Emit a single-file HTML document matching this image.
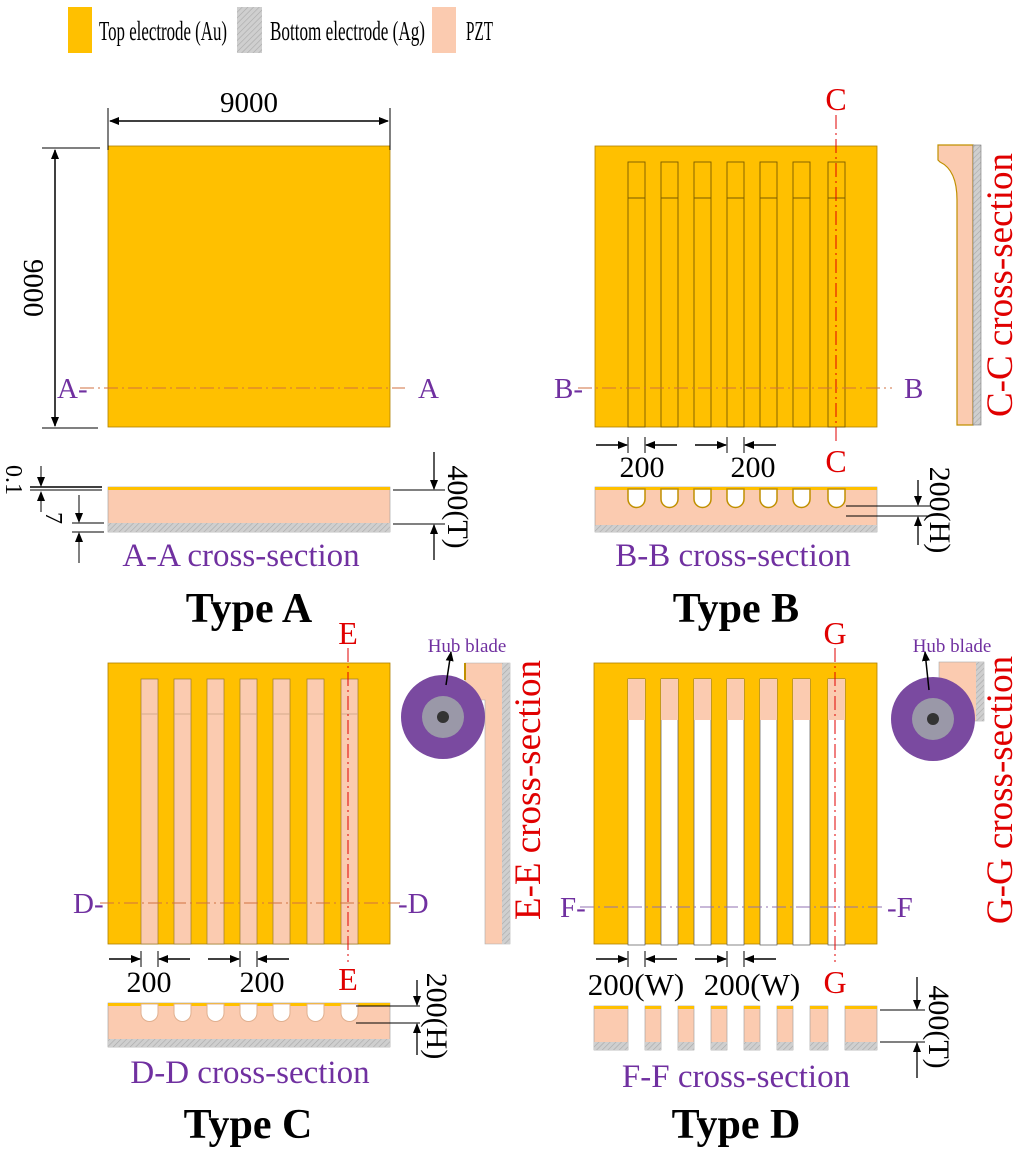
<!DOCTYPE html>
<html><head><meta charset="utf-8"><style>
body{margin:0;background:#fff}
svg{display:block}
text{font-family:"Liberation Serif",serif}
</style></head><body>
<svg id="fig" width="1024" height="1153" viewBox="0 0 1024 1153">
<defs>
<pattern id="hatch" width="4" height="4" patternUnits="userSpaceOnUse" patternTransform="rotate(45)">
<rect width="4" height="4" fill="#cfcfcf"/><line x1="0" y1="0" x2="0" y2="4" stroke="#a9a9a9" stroke-width="1.2"/>
</pattern>
<marker id="ah" markerWidth="10" markerHeight="8" refX="9" refY="4" orient="auto" markerUnits="userSpaceOnUse"><path d="M0,0 L10,4 L0,8z" fill="#000"/></marker>
<marker id="ahs" markerWidth="10" markerHeight="8" refX="1" refY="4" orient="auto" markerUnits="userSpaceOnUse"><path d="M10,0 L0,4 L10,8z" fill="#000"/></marker>
</defs>

<g>
<rect x="68" y="7" width="24" height="46" fill="#FFC000"/>
<text x="99" y="40" font-size="27" textLength="128" lengthAdjust="spacingAndGlyphs">Top electrode (Au)</text>
<rect x="237" y="7" width="25" height="46" fill="url(#hatch)"/>
<text x="270" y="40" font-size="27" textLength="155" lengthAdjust="spacingAndGlyphs">Bottom electrode (Ag)</text>
<rect x="432" y="7" width="24" height="46" fill="#FBCBB0"/>
<text x="466" y="40" font-size="27" textLength="27" lengthAdjust="spacingAndGlyphs">PZT</text>
</g>

<!-- Type A -->
<g>
<rect x="108" y="146" width="282" height="281" fill="#FFC000" stroke="#b08000" stroke-width="0.8"/>
<line x1="108" y1="108" x2="108" y2="150" stroke="#000"/><line x1="390" y1="108" x2="390" y2="150" stroke="#000"/>
<line x1="110" y1="121" x2="388" y2="121" stroke="#000" stroke-width="1.5" marker-end="url(#ah)" marker-start="url(#ahs)"/>
<text x="249" y="112" font-size="29" text-anchor="middle">9000</text>
<line x1="42" y1="148" x2="100" y2="148" stroke="#000"/><line x1="42" y1="428" x2="98" y2="428" stroke="#000"/>
<line x1="55" y1="150" x2="55" y2="426" stroke="#000" stroke-width="1.5" marker-end="url(#ah)" marker-start="url(#ahs)"/>
<text transform="translate(24,288) rotate(90)" font-size="29" text-anchor="middle">9000</text>
<line x1="80" y1="388" x2="405" y2="388" stroke="#d07040" stroke-dasharray="14,4,2,4"/>
<text x="57" y="398" font-size="29" fill="#7030A0">A-</text><text x="418" y="398" font-size="29" fill="#7030A0">A</text>
<rect x="108" y="487" width="282" height="45" fill="#FBCBB0" stroke="#999" stroke-width="0.6"/>
<rect x="108" y="487" width="282" height="3" fill="#FFC000"/>
<rect x="108" y="523" width="282" height="9" fill="url(#hatch)"/>
<line x1="30" y1="487" x2="102" y2="487" stroke="#000" stroke-width="1.5"/><line x1="30" y1="490" x2="102" y2="490" stroke="#000" stroke-width="1"/>
<line x1="72" y1="523" x2="104" y2="523" stroke="#000"/><line x1="72" y1="532" x2="104" y2="532" stroke="#000"/>
<line x1="41" y1="466" x2="41" y2="486" stroke="#000" marker-end="url(#ah)"/><line x1="41" y1="512" x2="41" y2="492" stroke="#000" marker-end="url(#ah)"/>
<line x1="79" y1="495" x2="79" y2="522" stroke="#000" marker-end="url(#ah)"/><line x1="79" y1="563" x2="79" y2="533" stroke="#000" marker-end="url(#ah)"/>
<text transform="translate(6,465) rotate(90)" font-size="24">0.1</text>
<text transform="translate(46,512) rotate(90)" font-size="24">7</text>
<line x1="393" y1="490" x2="445" y2="490" stroke="#000"/><line x1="393" y1="524" x2="445" y2="524" stroke="#000"/>
<line x1="434" y1="452" x2="434" y2="489" stroke="#000" stroke-width="1.3" marker-end="url(#ah)"/><line x1="434" y1="560" x2="434" y2="525" stroke="#000" stroke-width="1.3" marker-end="url(#ah)"/>
<text transform="translate(448,507) rotate(90)" font-size="30" text-anchor="middle">400(T)</text>
<text x="241" y="566" font-size="33" fill="#7030A0" text-anchor="middle">A-A cross-section</text>
<text x="249" y="622" font-size="42" font-weight="bold" text-anchor="middle">Type A</text>
</g>

<!-- Type B -->
<g>
<rect x="595" y="146" width="282" height="281" fill="#FFC000" stroke="#b08000" stroke-width="0.8"/>
<g id="bSlots"></g>
<line x1="836" y1="115" x2="836" y2="445" stroke="#e00000" stroke-dasharray="14,4,2,4"/>
<text x="836" y="110" font-size="32" fill="#e00000" text-anchor="middle">C</text>
<text x="836" y="472" font-size="32" fill="#e00000" text-anchor="middle">C</text>
<line x1="578" y1="388" x2="892" y2="388" stroke="#d07040" stroke-dasharray="14,4,2,4"/>
<text x="554" y="398" font-size="29" fill="#7030A0">B-</text><text x="904" y="398" font-size="29" fill="#7030A0">B</text>
<path d="M938,145 L973,145 L973,425 L957,425 L957,200 Q957,170 940,162 L938,160 Z" fill="#FBCBB0" stroke="#c09000" stroke-width="1.2"/>
<rect x="973" y="145" width="8" height="280" fill="url(#hatch)" stroke="#777" stroke-width="0.6"/>
<text transform="translate(1012,285) rotate(-90)" font-size="37" fill="#e00000" text-anchor="middle">C-C cross-section</text>
<rect x="595" y="487" width="282" height="45" fill="#FBCBB0" stroke="#999" stroke-width="0.6"/>
<rect x="595" y="487" width="282" height="3" fill="#FFC000"/>
<rect x="595" y="525" width="282" height="7" fill="url(#hatch)"/>
<g id="bNotch"></g>
<text x="642" y="477" font-size="30" text-anchor="middle">200</text><text x="753" y="477" font-size="30" text-anchor="middle">200</text>
<text x="733" y="566" font-size="33" fill="#7030A0" text-anchor="middle">B-B cross-section</text>
<text x="736" y="622" font-size="42" font-weight="bold" text-anchor="middle">Type B</text>
</g>

<!-- Type C -->
<g>
<rect x="108" y="663" width="282" height="281" fill="#FFC000" stroke="#b08000" stroke-width="0.8"/>
<g id="cSlots"></g>
<line x1="348" y1="648" x2="348" y2="962" stroke="#e00000" stroke-dasharray="14,4,2,4"/>
<text x="348" y="644" font-size="32" fill="#e00000" text-anchor="middle">E</text>
<text x="348" y="990" font-size="32" fill="#e00000" text-anchor="middle">E</text>
<line x1="100" y1="903" x2="400" y2="903" stroke="#d07040" stroke-dasharray="14,4,2,4"/>
<text x="73" y="913" font-size="29" fill="#7030A0">D-</text><text x="398" y="913" font-size="29" fill="#7030A0">-D</text>
<path d="M465,663 L510,663 L510,944 L485,944 L485,700 L465,700 Z" fill="#FBCBB0" stroke="#aaa" stroke-width="0.6"/>
<rect x="502" y="663" width="8" height="281" fill="url(#hatch)"/>
<line x1="465" y1="663" x2="465" y2="680" stroke="#c09000" stroke-width="2"/>
<text transform="translate(540,790) rotate(-90)" font-size="37" fill="#e00000" text-anchor="middle">E-E cross-section</text>
<g>
<circle cx="443" cy="717" r="42" fill="#7a4aa0"/><circle cx="443" cy="717" r="21" fill="#9a98a8"/><circle cx="443" cy="717" r="6" fill="#333"/>
<line x1="446" y1="685" x2="451" y2="652" stroke="#000" stroke-width="1.5" marker-end="url(#ah)"/>
<text x="467" y="652" font-size="19" fill="#7030A0" text-anchor="middle">Hub blade</text>
</g>
<rect x="108" y="1003" width="282" height="44" fill="#FBCBB0" stroke="#999" stroke-width="0.6"/>
<rect x="108" y="1003" width="282" height="3" fill="#FFC000"/>
<rect x="108" y="1039" width="282" height="8" fill="url(#hatch)"/>
<g id="cNotch"></g>
<text x="149" y="992" font-size="30" text-anchor="middle">200</text><text x="262" y="992" font-size="30" text-anchor="middle">200</text>
<text x="250" y="1083" font-size="33" fill="#7030A0" text-anchor="middle">D-D cross-section</text>
<text x="248" y="1138" font-size="42" font-weight="bold" text-anchor="middle">Type C</text>
</g>

<!-- Type D -->
<g>
<rect x="594" y="663" width="283" height="281" fill="#FFC000" stroke="#b08000" stroke-width="0.8"/>
<g id="dSlots"></g>
<line x1="835" y1="648" x2="835" y2="962" stroke="#e00000" stroke-dasharray="14,4,2,4"/>
<text x="835" y="644" font-size="32" fill="#e00000" text-anchor="middle">G</text>
<text x="835" y="993" font-size="32" fill="#e00000" text-anchor="middle">G</text>
<line x1="580" y1="907" x2="885" y2="907" stroke="#9070b0" stroke-dasharray="14,4,2,4"/>
<text x="560" y="917" font-size="29" fill="#7030A0">F-</text><text x="887" y="917" font-size="29" fill="#7030A0">-F</text>
<rect x="939" y="662" width="45" height="59" fill="#FBCBB0" stroke="#aaa" stroke-width="0.6"/>
<rect x="976" y="662" width="8" height="59" fill="url(#hatch)"/>
<g>
<circle cx="933" cy="719" r="42" fill="#7a4aa0"/><circle cx="933" cy="719" r="21" fill="#9a98a8"/><circle cx="933" cy="719" r="6" fill="#333"/>
<line x1="929" y1="690" x2="925" y2="652" stroke="#000" stroke-width="1.5" marker-end="url(#ah)"/>
<text x="952" y="652" font-size="19" fill="#7030A0" text-anchor="middle">Hub blade</text>
</g>
<text transform="translate(1012,790) rotate(-90)" font-size="37" fill="#e00000" text-anchor="middle">G-G cross-section</text>
<g id="dBlocks"></g>
<text x="636" y="995" font-size="31" text-anchor="middle">200(W)</text><text x="752" y="995" font-size="31" text-anchor="middle">200(W)</text>
<text x="736" y="1087" font-size="33" fill="#7030A0" text-anchor="middle">F-F cross-section</text>
<text x="736" y="1138" font-size="42" font-weight="bold" text-anchor="middle">Type D</text>
</g>

<g>
<line x1="846" y1="506" x2="930" y2="506" stroke="#000"/><line x1="846" y1="516" x2="930" y2="516" stroke="#000"/>
<line x1="918" y1="480" x2="918" y2="505" stroke="#000" stroke-width="1.3" marker-end="url(#ah)"/><line x1="918" y1="545" x2="918" y2="517" stroke="#000" stroke-width="1.3" marker-end="url(#ah)"/>
<text transform="translate(930,510) rotate(90)" font-size="30" text-anchor="middle">200(H)</text>
<line x1="356" y1="1006" x2="420" y2="1006" stroke="#000"/><line x1="356" y1="1023" x2="420" y2="1023" stroke="#000"/>
<line x1="417" y1="980" x2="417" y2="1005" stroke="#000" stroke-width="1.3" marker-end="url(#ah)"/><line x1="417" y1="1055" x2="417" y2="1024" stroke="#000" stroke-width="1.3" marker-end="url(#ah)"/>
<text transform="translate(427,1016) rotate(90)" font-size="30" text-anchor="middle">200(H)</text>
<line x1="880" y1="1010" x2="925" y2="1010" stroke="#000"/><line x1="880" y1="1042" x2="925" y2="1042" stroke="#000"/>
<line x1="917" y1="977" x2="917" y2="1009" stroke="#000" stroke-width="1.3" marker-end="url(#ah)"/><line x1="917" y1="1078" x2="917" y2="1043" stroke="#000" stroke-width="1.3" marker-end="url(#ah)"/>
<text transform="translate(929,1027) rotate(90)" font-size="30" text-anchor="middle">400(T)</text>
</g>
</svg>
<script>
const slotsBD = [628,661,694,727,760,793,828];
const slotsC = [141,174,207,240,273,307,341];
const slotW = 17;
const NS = "http://www.w3.org/2000/svg";
function mk(parent, tag, attrs){const e=document.createElementNS(NS,tag);for(const k in attrs)e.setAttribute(k,attrs[k]);document.getElementById(parent).appendChild(e);return e;}
slotsBD.forEach(x=>{
  const r=mk('bSlots','rect',{x:x,y:162,width:slotW,height:265,fill:'#FFC000',stroke:'#7a5a00','stroke-width':0.9});
  
  
  mk('bSlots','line',{x1:x,y1:198,x2:x+slotW,y2:198,stroke:'#7a5a00','stroke-width':0.9});
  const n=mk('bNotch','path',{d:`M${x},489 L${x},499 A8.5,8.5 0 0 0 ${x+slotW},499 L${x+slotW},489 Z`,fill:'#fff',stroke:'#c09000','stroke-width':1.5});
  
  
});
slotsC.forEach(x=>{
  const r=mk('cSlots','rect',{x:x,y:679,width:slotW,height:265,fill:'#FBCBB0',stroke:'#9a7a30','stroke-width':0.7});
  
  
  mk('cSlots','line',{x1:x,y1:714,x2:x+slotW,y2:714,stroke:'#c8a080','stroke-width':0.8});
  const n=mk('cNotch','path',{d:`M${x},1004 L${x},1013 A8.5,8.5 0 0 0 ${x+slotW},1013 L${x+slotW},1004 Z`,fill:'#fff',stroke:'#e0b090','stroke-width':1});
  
  
});
slotsBD.forEach(x=>{
  const r=mk('dSlots','rect',{x:x,y:679,width:slotW,height:266,fill:'#fff',stroke:'#555','stroke-width':0.7});
  
  
  mk('dSlots','rect',{x:x,y:679,width:slotW,height:41,fill:'#FBCBB0'});
});
const edges=[594].concat(slotsBD.flatMap(x=>[x,x+slotW])).concat([877]);
for(let i=0;i<edges.length;i+=2){
  const a=edges[i],b=edges[i+1];
  const g=mk('dBlocks','rect',{x:a,y:1006,width:b-a,height:44,fill:'#FBCBB0',stroke:'#999','stroke-width':0.6});
  
  
  mk('dBlocks','rect',{x:a,y:1006,width:b-a,height:3,fill:'#FFC000'});
  mk('dBlocks','rect',{x:a,y:1042,width:b-a,height:8,fill:'url(#hatch)'});
}
function dimArrows(grp,x1,x2,y){
  mk(grp,'line',{x1:x1,y1:y-8,x2:x1,y2:y+8,stroke:'#000'});
  mk(grp,'line',{x1:x2,y1:y-8,x2:x2,y2:y+8,stroke:'#000'});
  mk(grp,'line',{x1:x1-32,y1:y,x2:x1-1,y2:y,stroke:'#000','stroke-width':1.4,'marker-end':'url(#ah)'});
  mk(grp,'line',{x1:x2+32,y1:y,x2:x2+1,y2:y,stroke:'#000','stroke-width':1.4,'marker-end':'url(#ah)'});
}
dimArrows('bSlots',628,645,445);dimArrows('bSlots',727,744,445);
dimArrows('cSlots',141,158,959);dimArrows('cSlots',240,257,959);
dimArrows('dSlots',628,645,959);dimArrows('dSlots',727,744,959);
</script>
</body></html>
